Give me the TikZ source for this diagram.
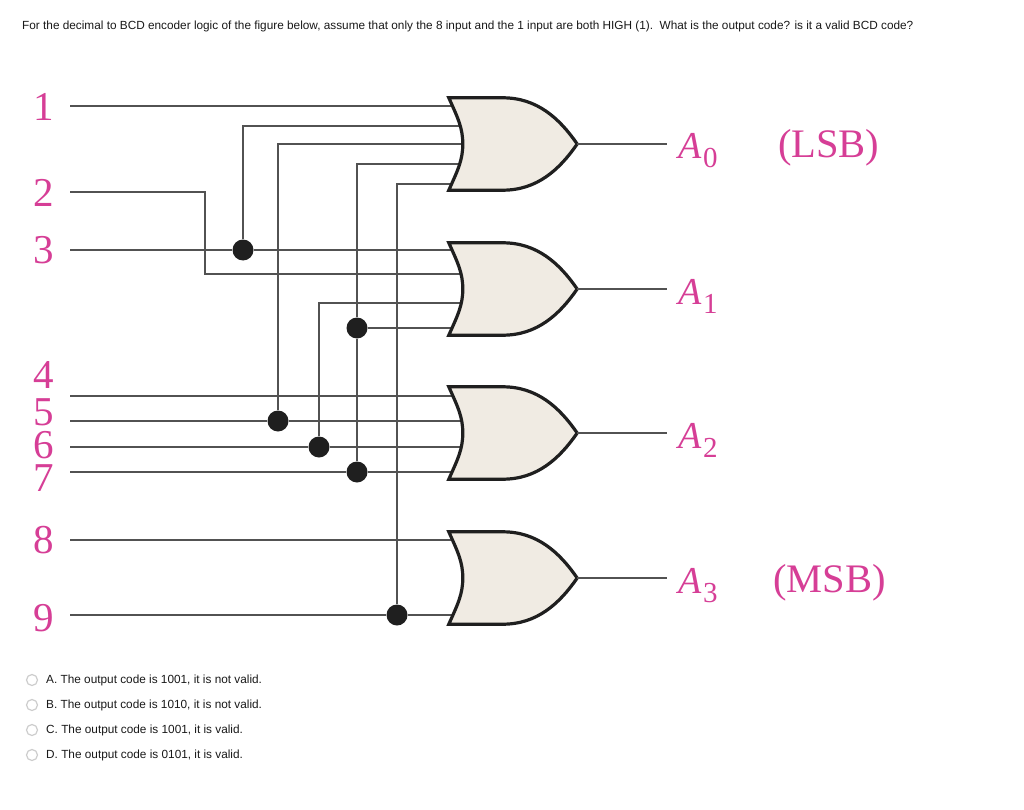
\documentclass[tikz,border=0pt]{standalone}
\usepackage{xcolor}
\usepackage{fontspec}
\setmainfont{Liberation Serif}
\newfontfamily\quizfont{Liberation Sans}
\usetikzlibrary{calc}
\definecolor{labelpink}{RGB}{214,62,150}
\definecolor{gatefill}{RGB}{240,235,227}
\definecolor{radiogray}{RGB}{205,205,205}
\tikzstyle{wire} = [draw=black!68, line width=1.9pt]
\tikzstyle{gateline} = [draw=black!88, fill=gatefill, line width=3.2pt, line join=miter]
\tikzstyle{gatebox} = [inner sep=0pt, minimum width=128pt, minimum height=92pt]
\tikzstyle{joint} = [circle, fill=black!88, inner sep=0pt, minimum size=21pt]
\tikzstyle{digit} = [text=labelpink, inner sep=0pt, font=\fontsize{41}{41}\selectfont]
\tikzstyle{outlabel} = [text=labelpink, inner sep=0pt, anchor=base west, font=\fontsize{38}{38}\selectfont]
\tikzstyle{tagtext} = [text=labelpink, inner sep=0pt, anchor=base west, font=\fontsize{40.5}{41}\selectfont]
\tikzstyle{quiz} = [inner sep=0pt, anchor=base west, text=black!90, font=\quizfont\fontsize{11.8}{13}\selectfont]
\tikzstyle{radio} = [circle, draw=radiogray, fill=white, line width=1.2pt, inner sep=0pt, minimum size=11pt]
\newcommand{\orgate}[2]{%
\node [gatebox] (#1) at (513,#2) {};
\draw [gateline] (#1.north west) -- ++(54,0)
    .. controls +(34,0) and +(-18,-26) .. (#1.east)
    .. controls +(-18,26) and +(34,0) .. ($(#1.south west)+(54,0)$)
    -- (#1.south west)
    .. controls +(9,-20) and +(0,16) .. ($(#1.west)+(14,0)$)
    .. controls +(0,-16) and +(9,20) .. cycle;
}
\newcommand{\subA}[1]{\textit{A}\hspace{1.5pt}\raisebox{-9pt}{\fontsize{29}{29}\selectfont #1}}

\begin{document}
\begin{tikzpicture}[x=1pt, y=-1pt]
    \useasboundingbox [fill=white] (0,0) rectangle (1024,810);
    \node [quiz] (question) at (22,30) {For the decimal to BCD encoder logic of the figure below, assume that only the 8 input and the 1 input are both HIGH (1).\ \ What is the output code? is it a valid BCD code?};

    % input digits and the free ends of their wires
    \foreach \n/\yl/\yw in {1/107/106, 2/193/192, 3/250/250, 4/375/396, 5/412/421, 6/445/447, 7/478/472, 8/540/540, 9/618/615} {
        \node [digit] (num\n) at (44,\yl) {\n};
        \coordinate (in\n) at (70,\yw);
    }
    % junctions
    \node [joint] (dot3) at (243,250) {};
    \node [joint] (dot5) at (278,421) {};
    \node [joint] (dot6) at (319,447) {};
    \node [joint] (dot7) at (357,472) {};
    \node [joint] (dot7b) at (357,328) {};
    \node [joint] (dot9) at (397,615) {};
    % gate inputs, all on the back curve
    \foreach \name/\yy in {a/106, b/126, c/144, d/164, e/184, f/250, g/274, h/303, i/328, j/396, k/421, l/447, m/472, n/540, o/615} {
        \coordinate (gi\name) at (462,\yy);
    }
    \coordinate (bend2) at (205,192);

    \draw [wire] (in1) -- (gia);
    \draw [wire] (in2) -- (bend2) |- (gig);
    \draw [wire] (in3) -- (dot3) -- (gif);
    \draw [wire] (dot3) |- (gib);
    \draw [wire] (in4) -- (gij);
    \draw [wire] (in5) -- (dot5) -- (gik);
    \draw [wire] (dot5) |- (gic);
    \draw [wire] (in6) -- (dot6) -- (gil);
    \draw [wire] (dot6) |- (gih);
    \draw [wire] (in7) -- (dot7) -- (gim);
    \draw [wire] (dot7) -- (dot7b) |- (gid);
    \draw [wire] (dot7b) -- (gii);
    \draw [wire] (in8) -- (gin);
    \draw [wire] (in9) -- (dot9) -- (gio);
    \draw [wire] (dot9) |- (gie);

    \orgate{gate0}{144}
    \orgate{gate1}{289}
    \orgate{gate2}{433}
    \orgate{gate3}{578}

    \foreach \k/\yy in {0/144, 1/289, 2/433, 3/578} {
        \coordinate (out\k) at (667,\yy);
        \draw [wire] (gate\k.east) -- (out\k);
        \node [outlabel] (lab\k) at (678,\yy+15) {\subA{\k}};
    }
    \node [tagtext] (lsb) at (778,158) {(LSB)};
    \node [tagtext] (msb) at (773,592) {(MSB)};

    % answer choices
    \foreach \k/\yy/\txt in {a/683/{A. The output code is 1001, it is not valid.}, b/708/{B. The output code is 1010, it is not valid.}, c/733/{C. The output code is 1001, it is valid.}, d/758/{D. The output code is 0101, it is valid.}} {
        \node [radio] (radio\k) at (32,\yy-3) {};
        \node [quiz] (choice\k) at (46,\yy) {\txt};
    }
\end{tikzpicture}
\end{document}
